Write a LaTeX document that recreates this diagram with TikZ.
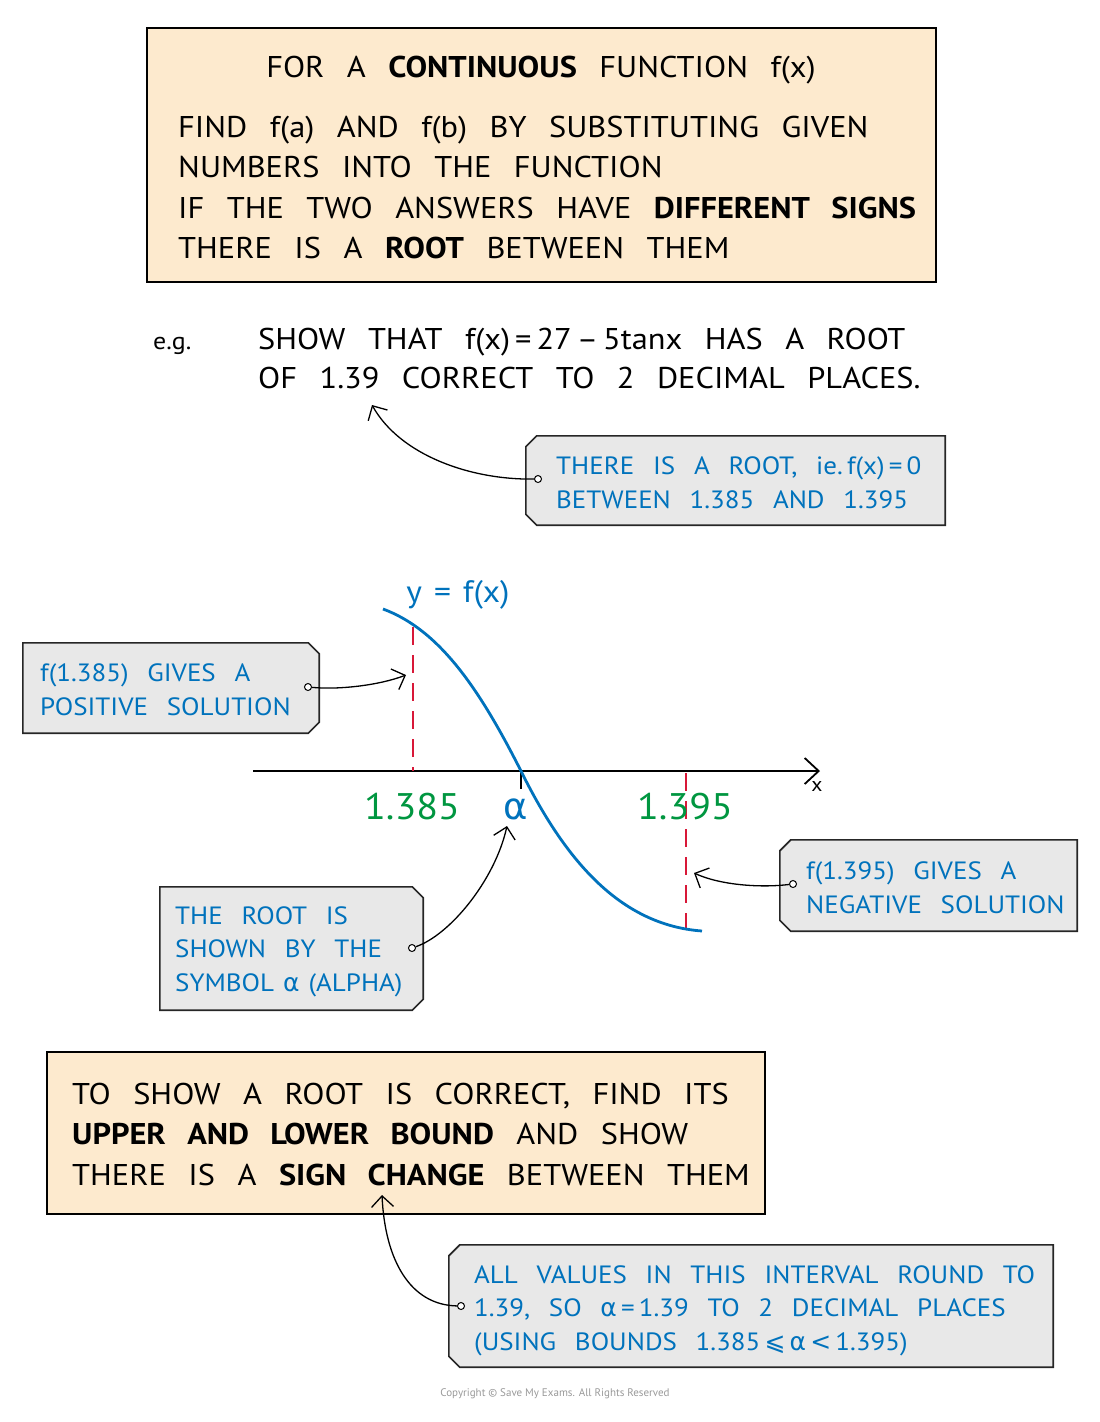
\documentclass[tikz,border=0pt]{standalone}
\usepackage{fontspec}
\setmainfont[WordSpace=2.6,FakeStretch=1.08]{PT Sans}
\newfontfamily\symfont[WordSpace=2.6]{DejaVu Sans}
\newfontfamily\plainfont{PT Sans}
\usepackage{xcolor}
\usetikzlibrary{positioning,calc,arrows.meta}
\definecolor{peach}{RGB}{253,234,206}
\definecolor{tagfill}{RGB}{232,232,232}
\definecolor{inkblue}{RGB}{0,114,188}
\definecolor{inkgreen}{RGB}{0,150,64}
\definecolor{inkred}{RGB}{216,24,56}
\newcommand\alp{{\symfont α}}
\newcommand\handbig{\fontsize{30}{40.5}\selectfont}
\newcommand\handtag{\fontsize{25}{33.5}\selectfont}
% tag outlines with cut corners on one side
\newcommand\chamferwest[1]{\draw[tagline] ([xshift=11pt]#1.north west) -- (#1.north east)
  -- (#1.south east) -- ([xshift=11pt]#1.south west) -- ([yshift=11pt]#1.south west)
  -- ([yshift=-11pt]#1.north west) -- cycle;}
\newcommand\chamfereast[1]{\draw[tagline] (#1.north west) -- ([xshift=-11pt]#1.north east)
  -- ([yshift=-11pt]#1.north east) -- ([yshift=11pt]#1.south east)
  -- ([xshift=-11pt]#1.south east) -- (#1.south west) -- cycle;}

\tikzset{
  notebox/.style={draw=black, line width=1.6pt, fill=peach, inner sep=0pt},
  tagbox/.style={rectangle, inner sep=0pt},
  tagline/.style={draw=black!85, line width=1.6pt, fill=tagfill},
  bigtext/.style={font=\handbig, text=black, inner sep=0pt},
  tagtext/.style={font=\handtag, text=inkblue, inner sep=0pt, align=left},
  hole/.style={circle, draw=black, fill=white, line width=1pt, inner sep=0pt, minimum size=7pt},
  pointer/.style={line width=1.3pt, -{Straight Barb[length=11pt,width=22pt,line width=1.3pt]}},
  bound/.style={inkred, line width=2.6pt, dash pattern=on 18pt off 10pt}
}

\begin{document}
\begin{tikzpicture}[x=1pt,y=-1pt]
\useasboundingbox (0,0) rectangle (1100,1422);

% top note
\node[notebox, minimum width=789pt, minimum height=254pt] (note) at (541.5,155) {};
\node[bigtext, anchor=base] (notetitle) at (541,77) {FOR A \textbf{CONTINUOUS} FUNCTION f(x)};
\node[bigtext, anchor=base west, align=left] (notebody) at (178,258.5)
  {FIND f(a) AND f(b) BY SUBSTITUTING GIVEN\\
   NUMBERS INTO THE FUNCTION\\
   IF THE TWO ANSWERS HAVE \textbf{DIFFERENT SIGNS}\\
   THERE IS A \textbf{ROOT} BETWEEN THEM};

% example question
\node[bigtext, anchor=base west] (eg) at (153,349) {\fontsize{24}{30}\selectfont e.g.};
\node[bigtext, anchor=base west, align=left] (question) at (258,388)
  {SHOW THAT f(x)\,=\,27\,–\,5tanx HAS A ROOT\\[-1.5pt]
   OF 1.39 CORRECT TO 2 DECIMAL PLACES.};

% tag: root between bounds
\node[tagbox, minimum width=419pt, minimum height=89pt] (tagroot) at (735.5,480.5) {};
\chamferwest{tagroot}
\node[tagtext, anchor=base west] (tagroottxt) at (556,508)
  {THERE IS A ROOT, ie.\,f(x)\,=\,0\\BETWEEN 1.385 AND 1.395};
\node[hole] (hroot) at (538,479) {};
\coordinate (ofroot) at (372,405);
\draw[pointer] (hroot) .. controls (470,480) and (400,455) .. (ofroot);

% graph
\coordinate (xstart) at (253,771);
\coordinate (xend) at (820,771);
\draw[line width=1.8pt, -{Straight Barb[length=14pt,width=26pt,line width=1.8pt]}] (xstart) -- (xend);
\node[font=\fontsize{20}{24}\selectfont, inner sep=0pt] (xlabel) at (817,786) {x};
\coordinate (root) at (521,771);
\draw[line width=1.5pt] (root) -- ++(0,18);
\draw[bound] (413,627) -- (413,771);
\draw[bound] (686,773) -- (686,930);
\draw[inkblue, line width=2.8pt] (383,609) .. controls (440,630) and (480,690) .. (root)
  .. controls (565,860) and (620,925) .. (702,931);
\node[font=\fontsize{31}{36}\selectfont, text=inkblue, anchor=base, inner sep=0pt] (curvelabel) at (458,602) {y\hspace{12pt}=\hspace{12pt}f(x)};
\node[font=\fontsize{37}{40}\selectfont, text=inkgreen, anchor=base, inner sep=0pt] (lower) at (412,819) {1.385};
\node[font=\fontsize{37}{40}\selectfont, text=inkblue, anchor=base, inner sep=0pt] (alpha) at (516,819) {\alp};
\node[font=\fontsize{37}{40}\selectfont, text=inkgreen, anchor=base, inner sep=0pt] (upper) at (685,819) {1.395};

% tag: positive
\node[tagbox, minimum width=296pt, minimum height=90pt] (tagpos) at (171,688) {};
\chamfereast{tagpos}
\node[tagtext, anchor=base west] (tagpostxt) at (40,715) {f(1.385) GIVES A\\POSITIVE SOLUTION};
\node[hole] (hpos) at (308,687) {};
\coordinate (atlower) at (406,675);
\draw[pointer] (hpos) .. controls (340,690) and (380,685) .. (atlower);

% tag: alpha
\node[tagbox, minimum width=263pt, minimum height=123pt] (tagalpha) at (291.5,948.5) {};
\chamfereast{tagalpha}
\node[tagtext, anchor=base west] (tagalphatxt) at (175,991)
  {THE ROOT IS\\SHOWN BY THE\\SYMBOL\hspace{9pt}\alp\hspace{9pt}(ALPHA)};
\node[hole] (halpha) at (412,948) {};
\coordinate (atalpha) at (507,826);
\draw[pointer] (halpha) .. controls (450,935) and (495,880) .. (atalpha);

% tag: negative
\node[tagbox, minimum width=297pt, minimum height=91pt] (tagneg) at (928.5,885.5) {};
\chamferwest{tagneg}
\node[tagtext, anchor=base west] (tagnegtxt) at (806,913) {f(1.395) GIVES A\\NEGATIVE SOLUTION};
\node[hole] (hneg) at (793,884) {};
\coordinate (atupper) at (694,873);
\draw[pointer] (hneg) .. controls (760,888) and (720,885) .. (atupper);

% bottom note
\node[notebox, minimum width=718pt, minimum height=162pt] (method) at (406,1133) {};
\node[bigtext, anchor=base west, align=left] (methodtxt) at (72,1185)
  {TO SHOW A ROOT IS CORRECT, FIND ITS\\
   \textbf{UPPER AND LOWER BOUND} AND SHOW\\
   THERE IS A \textbf{SIGN CHANGE} BETWEEN THEM};

% tag: rounding
\node[tagbox, minimum width=604pt, minimum height=122pt] (taground) at (751,1306) {};
\chamferwest{taground}
\node[tagtext, anchor=base west] (tagroundtxt) at (474,1350)
  {ALL VALUES IN THIS INTERVAL ROUND TO\\
   1.39, SO \alp\,=\,1.39 TO 2 DECIMAL PLACES\\
   (USING BOUNDS 1.385\,{\symfont ⩽}\,\alp\,{\symfont <}\,1.395)};
\node[hole] (hround) at (461,1306) {};
\coordinate (atchange) at (382,1195);
\draw[pointer] (hround) .. controls (410,1305) and (385,1260) .. (atchange);

\node[font=\plainfont\fontsize{11}{13}\selectfont, text=black!40, inner sep=0pt] (copy) at (555,1394)
  {Copyright © Save My Exams. All Rights Reserved};
\end{tikzpicture}
\end{document}
